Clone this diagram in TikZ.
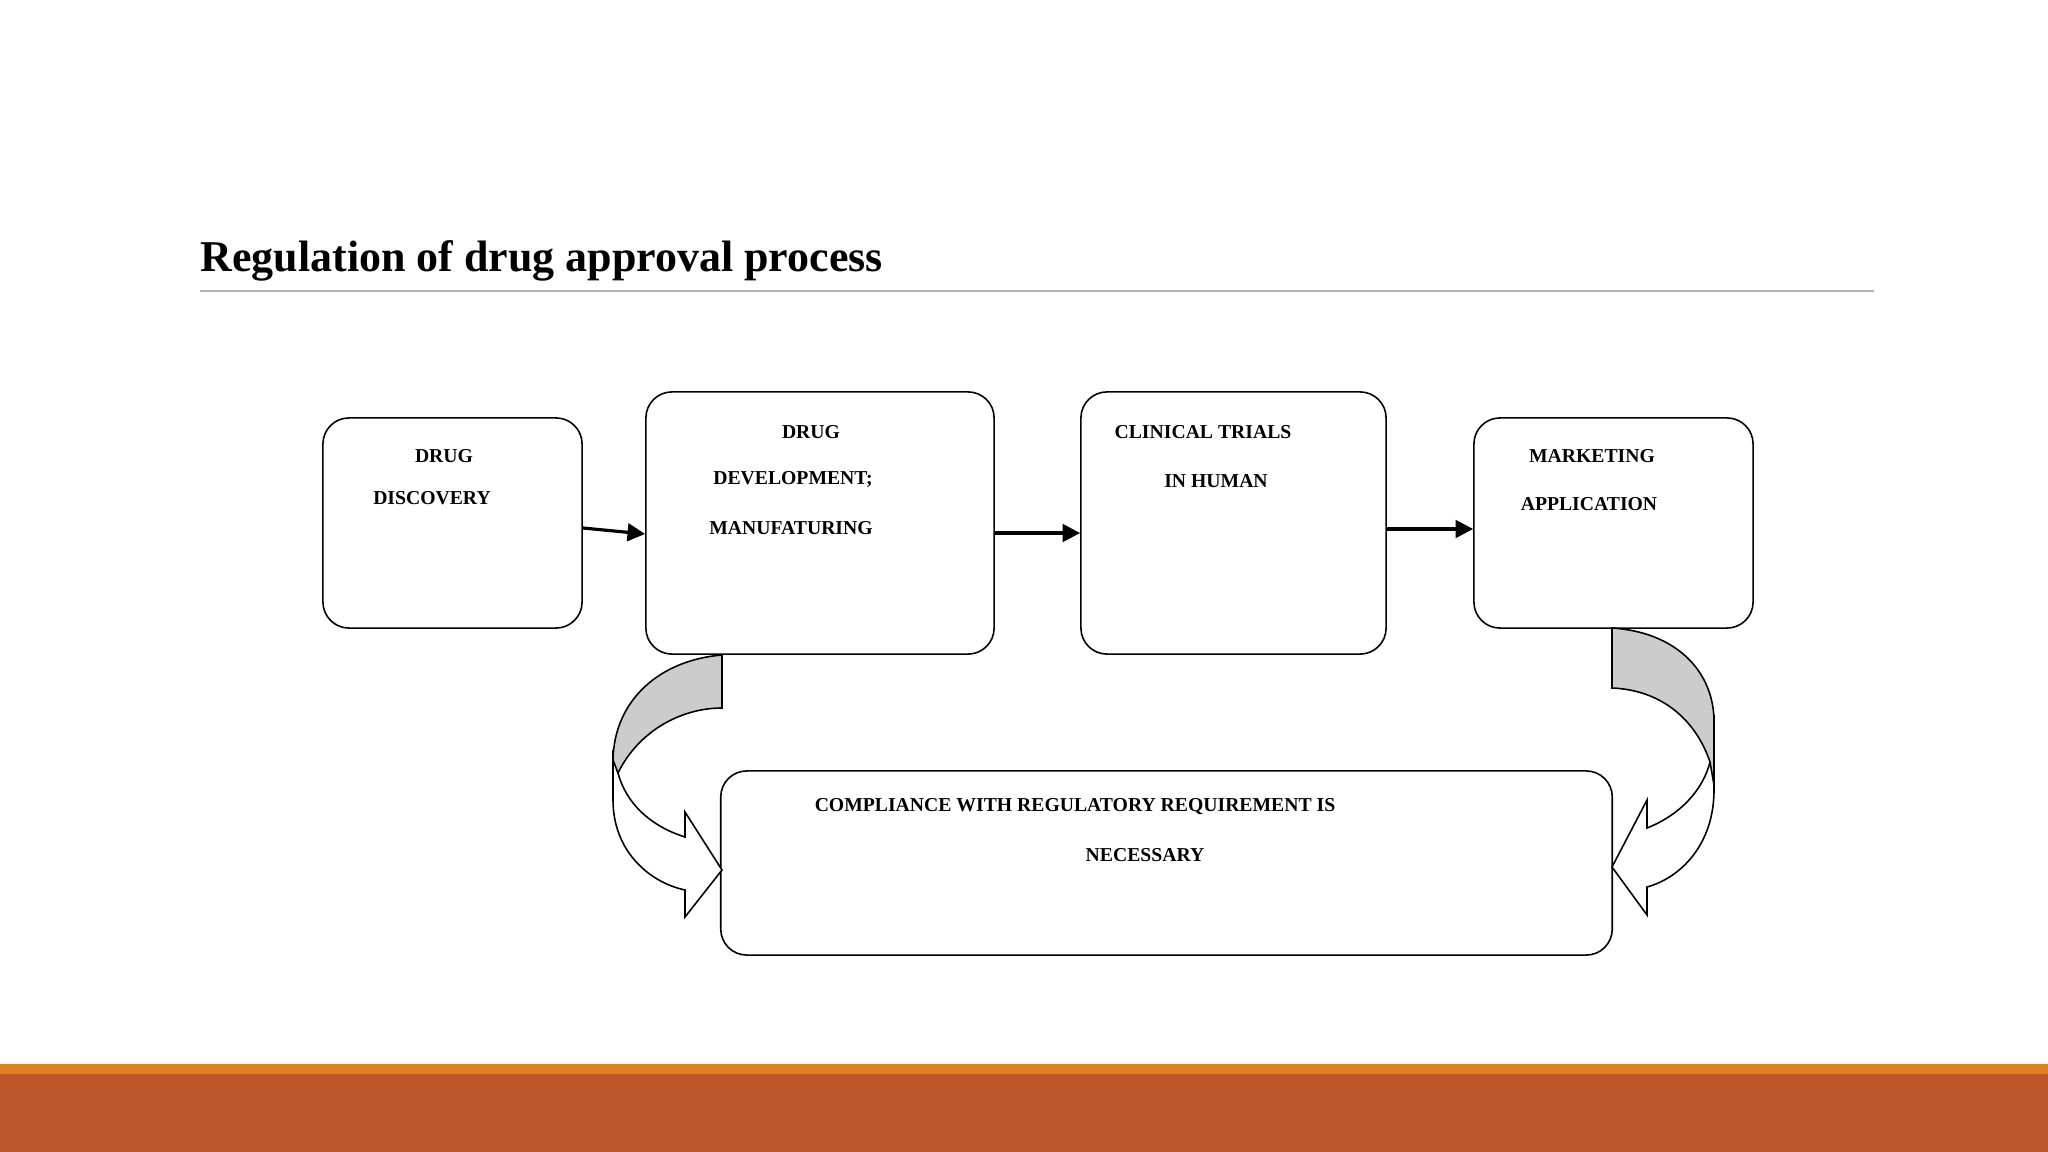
\documentclass[tikz,border=0pt]{standalone}
\usepackage{fontspec}
\setmainfont{Liberation Serif}
\usetikzlibrary{arrows.meta}
\definecolor{barorange}{HTML}{E0811E}
\definecolor{barrust}{HTML}{BE562B}
\tikzset{
  box/.style={draw, line width=0.45pt, rounded corners=0.26cm, inner sep=0pt},
  lbl/.style={font=\fontsize{5.6}{6}\selectfont\bfseries, inner sep=0pt},
  flow/.style={line width=0.9pt, -{Triangle[length=5pt,width=5pt]}},
  curv/.style={draw, line width=0.45pt, line join=miter},
}
\begin{document}
\begin{tikzpicture}[x=0.01cm,y=-0.01cm]
\useasboundingbox (0,0) rectangle (2048,1152);
\fill[white] (0,0) rectangle (2048,1152);
% title
\node[anchor=base west, inner sep=0pt, font=\fontsize{12.5}{14}\selectfont\bfseries] (title) at (200,272) {Regulation of drug approval process};
\draw[gray!60, line width=0.5pt] (200,291) -- (1874,291);
% boxes
\node[box, minimum width=2.59cm, minimum height=2.10cm] (b1) at (452.5,523) {};
\node[box, minimum width=3.48cm, minimum height=2.62cm] (b2) at (820,523) {};
\node[box, minimum width=3.05cm, minimum height=2.62cm] (b3) at (1233.5,523) {};
\node[box, minimum width=2.79cm, minimum height=2.10cm] (b4) at (1613.5,523) {};
\node[box, minimum width=8.91cm, minimum height=1.84cm] (b5) at (1166.5,863) {};
% labels
\node[lbl] (t1a) at (444,456) {DRUG};
\node[lbl] (t1b) at (432,498) {DISCOVERY};
\node[lbl] (t2a) at (811,432) {DRUG};
\node[lbl] (t2b) at (793,480) {DEVELOPMENT;};
\node[lbl] (t2c) at (791,528) {MANUFATURING};
\node[lbl] (t3a) at (1203,432) {CLINICAL TRIALS};
\node[lbl] (t3b) at (1216,481) {IN HUMAN};
\node[lbl] (t4a) at (1592,456) {MARKETING};
\node[lbl] (t4b) at (1589,504) {APPLICATION};
\node[lbl] (t5a) at (1075,807) {COMPLIANCE WITH REGULATORY REQUIREMENT IS};
\node[lbl] (t5b) at (1145,855) {NECESSARY};
% flow arrows
\draw[flow] ([yshift=-0.05cm]b1.east) -- ([yshift=-0.11cm]b2.west);
\draw[flow] ([yshift=-0.10cm]b2.east) -- ([yshift=-0.10cm]b3.west);
\draw[flow] ([yshift=-0.06cm]b3.east) -- ([yshift=-0.06cm]b4.west);
% left curved arrow
\draw[curv, fill=white] (613,755) -- (613,800) .. controls (613,850) and (648,882) .. (685,890)
  -- (685,917) -- (722,870) -- (685,812) -- (685,837)
  .. controls (650,826) and (626,803) .. (618,773) -- cycle;
\draw[curv, fill=black!20] (722,655) .. controls (660,660) and (614,700) .. (613,760)
  -- (618,773) .. controls (638,732) and (680,708) .. (722,708) -- cycle;
% right curved arrow
\draw[curv, fill=white] (1714,715) -- (1714,790) .. controls (1714,845) and (1680,878) .. (1647,887)
  -- (1647,915) -- (1612,867) -- (1647,800) -- (1647,828)
  .. controls (1680,815) and (1703,790) .. (1710,762) -- cycle;
\draw[curv, fill=black!20] (1612,628) .. controls (1675,632) and (1713,670) .. (1714,720)
  -- (1714,785) -- (1710,762) .. controls (1695,718) and (1660,690) .. (1612,688) -- cycle;
% bottom bars
\fill[barorange] (0,1064) rectangle (2048,1074);
\fill[barrust] (0,1074) rectangle (2048,1152);
\end{tikzpicture}
\end{document}
